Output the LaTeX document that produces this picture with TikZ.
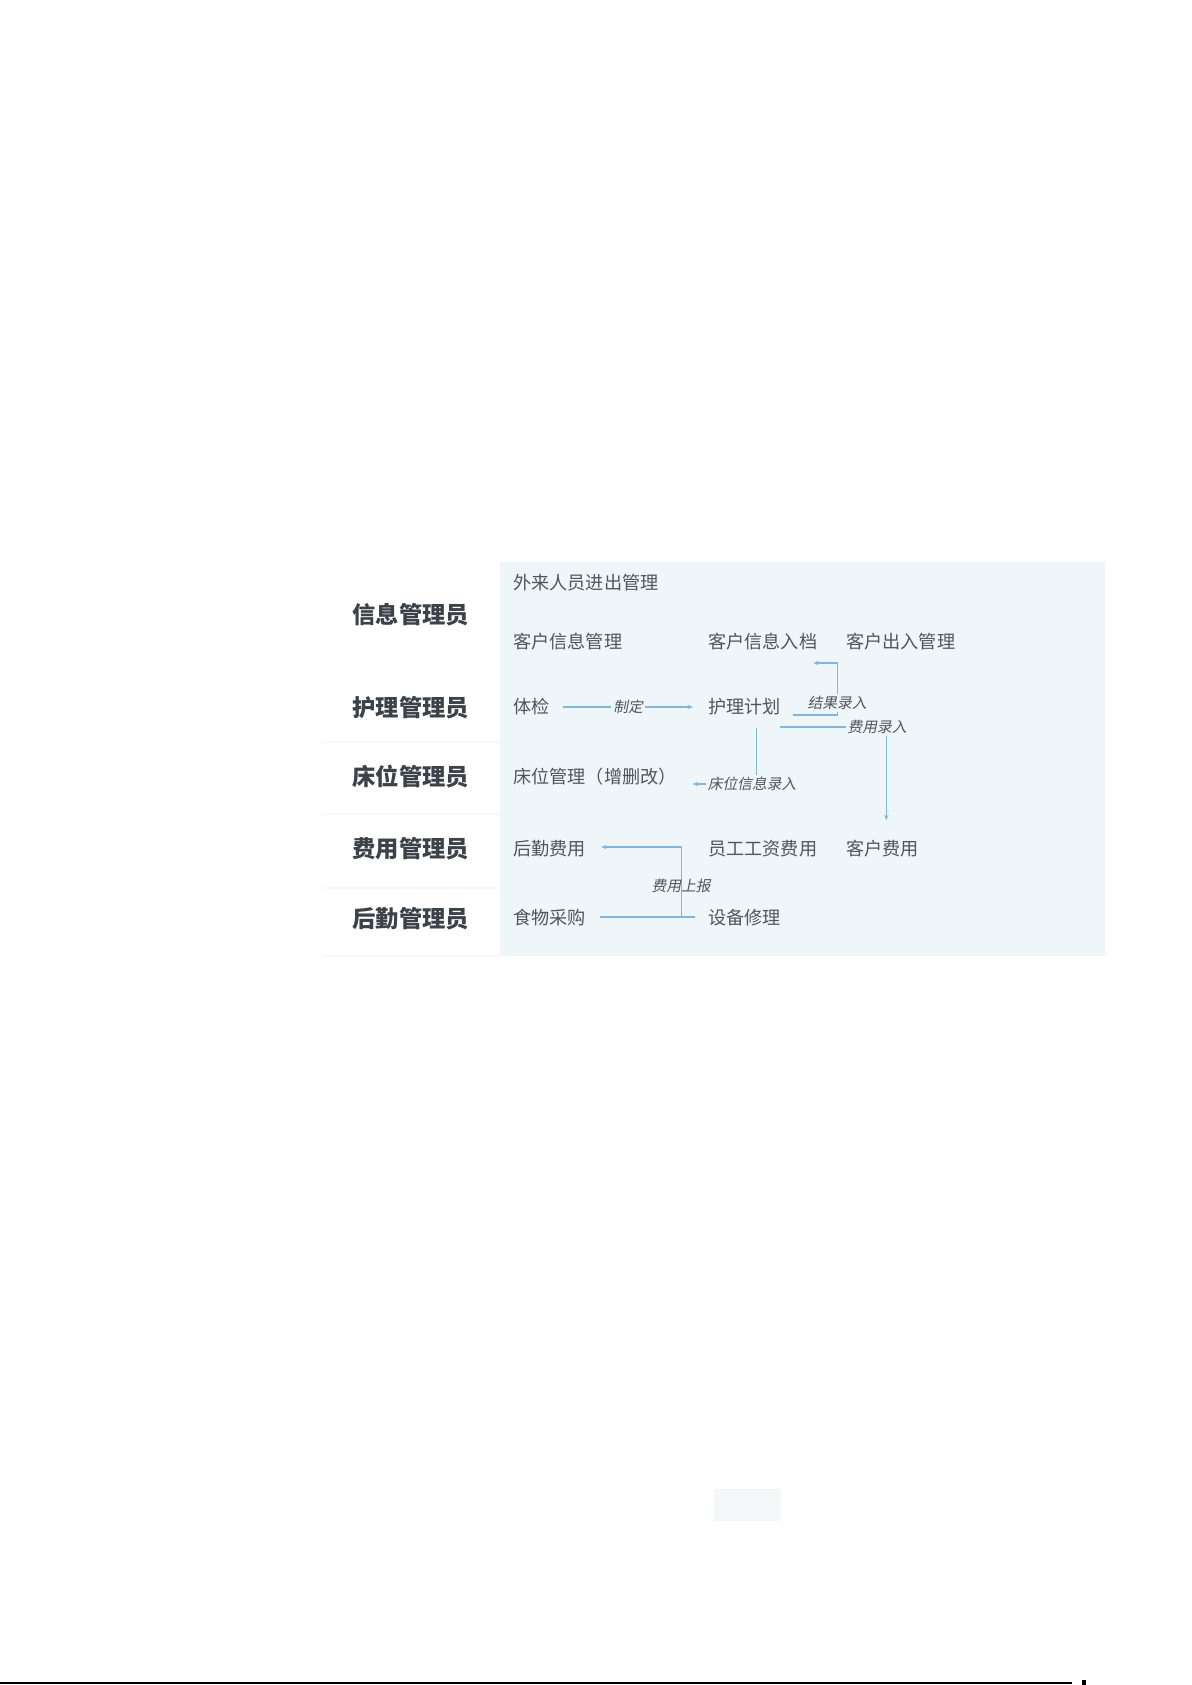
\documentclass[tikz,border=0pt]{standalone}
\usepackage{fontspec}
\setmainfont{Noto Sans CJK SC}
\newfontfamily\slantfont{Noto Sans CJK SC}[FakeSlant=0.2]
\usetikzlibrary{calc,arrows.meta}
\definecolor{panelbg}{HTML}{EEF6FA}
\definecolor{roletext}{HTML}{3C4249}
\definecolor{itemtext}{HTML}{4F555C}
\definecolor{linkblue}{HTML}{7FB8DC}
\definecolor{faintline}{HTML}{F8F8F9}
\definecolor{graybox}{HTML}{F5F6F8}
\tikzset{
  role/.style={anchor=west,inner sep=0pt,text=roletext,font=\fontsize{11.7}{13}\selectfont\bfseries},
  item/.style={anchor=west,inner sep=0pt,text=itemtext,font=\fontsize{9.1}{11}\selectfont},
  lab/.style={inner sep=1pt,text=itemtext,font=\fontsize{7.4}{9}\selectfont\slantfont},
  conn/.style={draw=linkblue,line width=0.7pt},
  arr/.style={conn,-{Stealth[length=2.6pt,width=2.2pt]}},
  faint/.style={draw=faintline,line width=0.6pt}
}
\begin{document}
\begin{tikzpicture}[x=0.5bp,y=-0.5bp]
\useasboundingbox (0,0) rectangle (1192,1685);
% panel
\fill[panelbg] (500,562) rectangle (1105,956);
% faint separators of the role column
\draw[faint] (323,742) -- (500,742);
\draw[faint] (323,814) -- (500,814);
\draw[faint] (323,888) -- (500,888);
\draw[faint] (323,956) -- (500,956);
% role labels
\node[role] (r1) at (352,615) {信息管理员};
\node[role] (r2) at (352,708) {护理管理员};
\node[role] (r3) at (352,777) {床位管理员};
\node[role] (r4) at (352,849) {费用管理员};
\node[role] (r5) at (352,919) {后勤管理员};
% items
\node[item] (wl)   at (513,583) {外来人员进出管理};
\node[item] (khxx) at (513,642) {客户信息管理};
\node[item] (khrd) at (708,642) {客户信息入档};
\node[item] (khcr) at (846,642) {客户出入管理};
\node[item] (tj)   at (513,707) {体检};
\node[item] (hljh) at (708,707) {护理计划};
\node[item] (cwgl) at (513,777) {床位管理（增删改）};
\node[item] (hqfy) at (513,849) {后勤费用};
\node[item] (ygfy) at (708,849) {员工工资费用};
\node[item] (khfy) at (846,849) {客户费用};
\node[item] (swcg) at (513,918) {食物采购};
\node[item] (sbxl) at (708,918) {设备修理};
% 制定
\draw[arr] ($(tj.east)+(13,0)$) -- ($(hljh.west)+(-15,0)$)
  node[midway,lab,fill=panelbg] (lzd) {制定};
% 结果录入
\draw[arr] ($(hljh.east)+(12,8)$) -- ++(44,0) -- ++(0,-52) -- ++(-24,0);
\node[lab,fill=panelbg] (ljg) at (837,703) {结果录入};
% 费用录入
\draw[arr] ($(hljh.east)+(-1,20)$) -- ++(106,0) -- ++(0,93);
\node[lab,fill=panelbg] (lfy) at (877,727) {费用录入};
% 床位信息录入
\draw[arr] ($(hljh.center)+(12,21)$) -- ++(0,56) -- ++(-64,0);
\node[lab,fill=panelbg] (lcw) at (752,784) {床位信息录入};
% 费用上报
\draw[conn] ($(swcg.east)+(14,-1)$) -- ($(sbxl.west)+(-13,-1)$);
\draw[arr] ($(swcg.east)+(95,-1)$) |- ($(hqfy.east)+(15,-2)$);
\node[lab] (lsb) at (681,886) {费用上报};
% page remnants
\fill[graybox] (714,1489) rectangle (781,1521);
\draw[black,line width=1pt] (0,1683) -- (1072,1683);
\fill[black] (1082,1680) rectangle (1086,1685);
\end{tikzpicture}
\end{document}
